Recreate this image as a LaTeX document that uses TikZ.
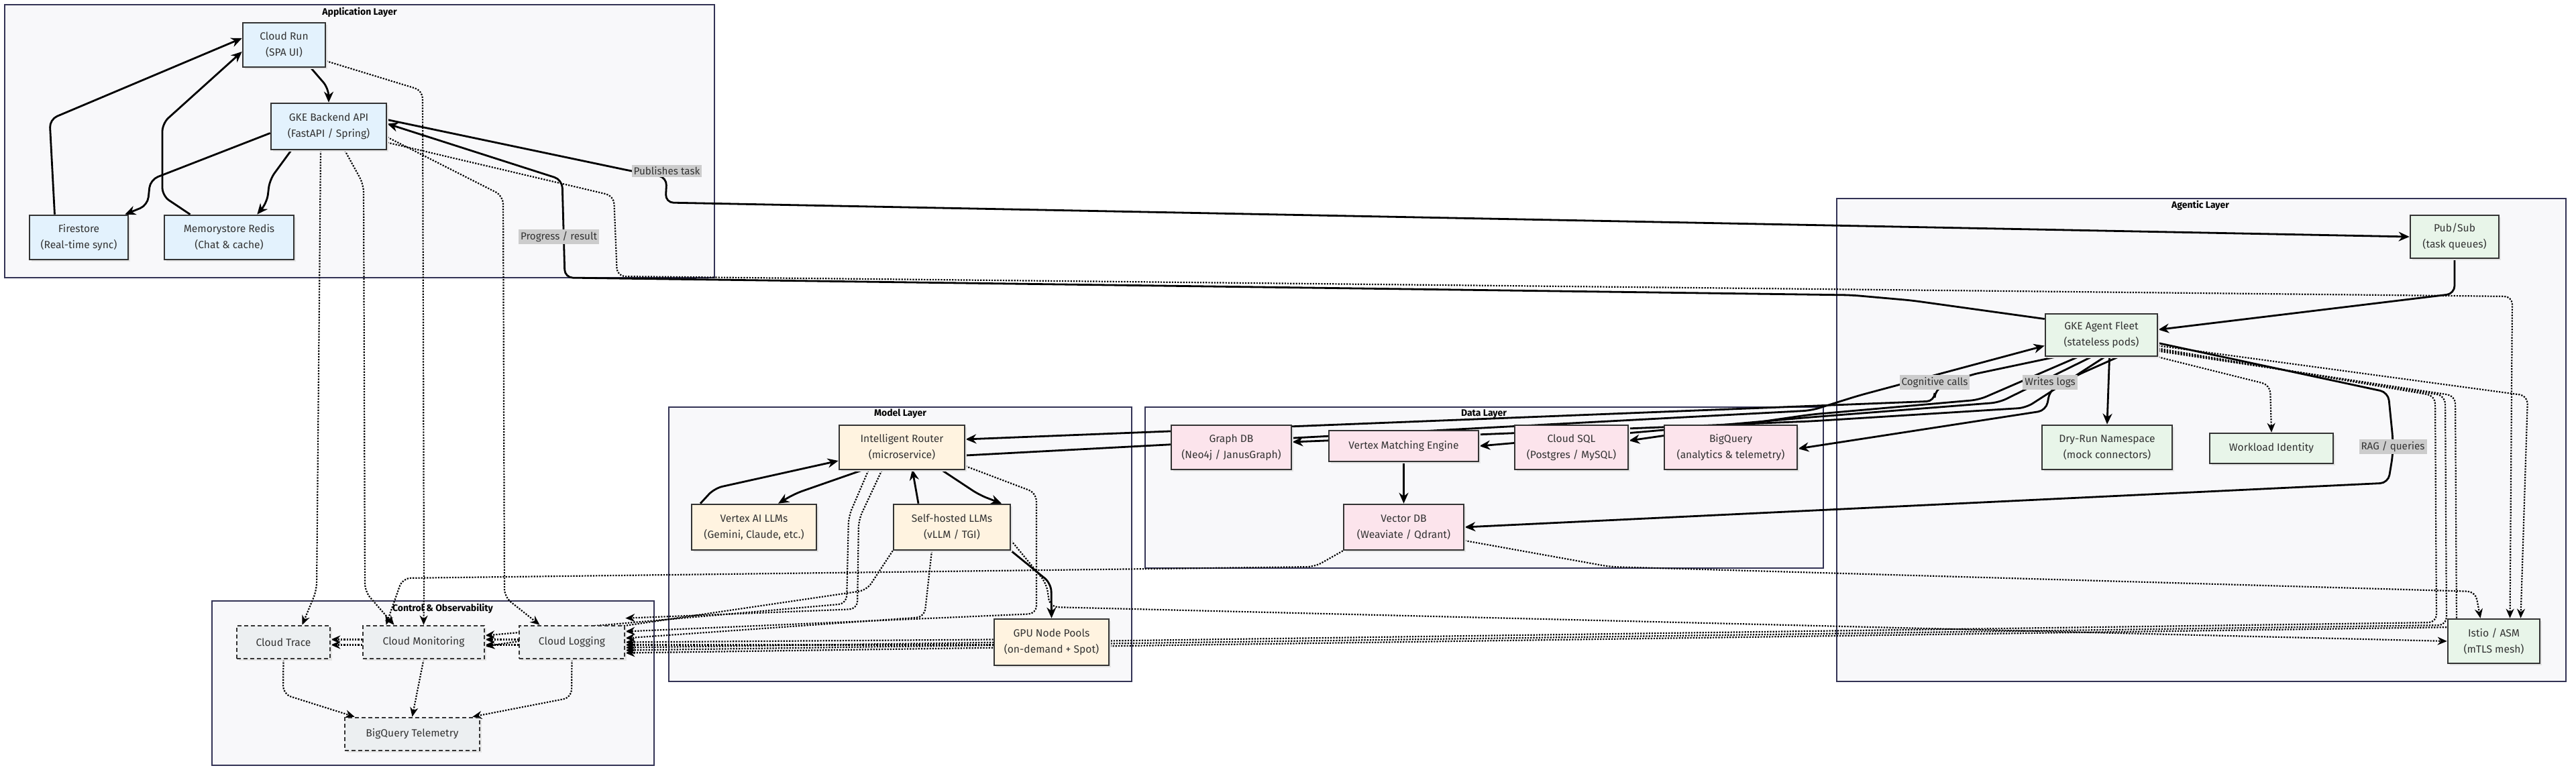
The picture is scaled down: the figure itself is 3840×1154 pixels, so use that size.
\documentclass[tikz,border=0pt]{standalone}
\usepackage{fontspec}
\setmainfont{Fira Sans}
\usetikzlibrary{arrows.meta,shadows}
\pgfdeclarelayer{bg}\pgfdeclarelayer{edges}\pgfsetlayers{bg,edges,main}
\definecolor{appc}{HTML}{E3F2FD}
\definecolor{modc}{HTML}{FFF3E0}
\definecolor{datc}{HTML}{FCE4EC}
\definecolor{agtc}{HTML}{E8F5E9}
\definecolor{obsc}{HTML}{ECEFF1}
\definecolor{clus}{HTML}{F8F8FA}
\definecolor{clusb}{HTML}{333355}
\begin{document}
\begin{tikzpicture}[x=0.5pt,y=-0.5pt,
  box/.style={draw=black!80,line width=1.3pt,align=center,font=\fontsize{7.8}{12}\selectfont,text=black!80,inner sep=1pt,
    drop shadow={shadow xshift=1.5pt,shadow yshift=-1.5pt,fill=black!10,opacity=1}},
  sz/.style 2 args={minimum width=#1*0.5pt,minimum height=#2*0.5pt},
  app/.style={box,fill=appc}, mod/.style={box,fill=modc}, dat/.style={box,fill=datc},
  agt/.style={box,fill=agtc}, obs/.style={box,fill=obsc,dashed,dash pattern=on 3pt off 2pt},
  cluster/.style={draw=clusb,fill=clus,line width=1.2pt},
  ctitle/.style={font=\bfseries\fontsize{7}{8}\selectfont,text=black},
  lbl/.style={fill=black!20,inner sep=1.5pt,font=\fontsize{7.6}{9}\selectfont,text=black!80},
  sol/.style={draw,line width=1.4pt,-{Stealth[length=8pt,width=7pt]},rounded corners=6pt},
  dot/.style={draw,densely dotted,line width=1.1pt,-{Stealth[length=7pt,width=6pt]},rounded corners=6pt}]
\useasboundingbox (0,0) rectangle (3840,1154);
\begin{pgfonlayer}{bg}
\fill[white] (0,0) rectangle (3840,1154);
\draw[cluster] (7,7) rectangle (1065,414);
\node[ctitle] at (536,18) {Application Layer};
\draw[cluster] (2738,296) rectangle (3825,1016);
\node[ctitle] at (3280,306) {Agentic Layer};
\draw[cluster] (997,607) rectangle (1687,1016);
\node[ctitle] at (1342,617) {Model Layer};
\draw[cluster] (1707,607) rectangle (2718,847);
\node[ctitle] at (2212,617) {Data Layer};
\draw[cluster] (316,896) rectangle (975,1141);
\node[ctitle] at (660,907) {Control \& Observability};
\end{pgfonlayer}
% nodes
\node[app,sz={123}{66}] (cr) at (423.5,67) {Cloud Run\\(SPA UI)};
\node[app,sz={172}{69}] (be) at (490,188.5) {GKE Backend API\\(FastAPI / Spring)};
\node[app,sz={147}{66}] (fs) at (117.5,354) {Firestore\\(Real-time sync)};
\node[app,sz={193}{66}] (rd) at (341.5,354) {Memorystore Redis\\(Chat \& cache)};
\node[agt,sz={132}{64}] (ps) at (3659,353) {Pub/Sub\\(task queues)};
\node[agt,sz={167}{63}] (af) at (3132.5,499.5) {GKE Agent Fleet\\(stateless pods)};
\node[agt,sz={194}{66}] (dr) at (3141,667) {Dry-Run Namespace\\(mock connectors)};
\node[agt,sz={184}{45}] (wi) at (3386,668.5) {Workload Identity};
\node[agt,sz={137}{66}] (is) at (3717.5,956) {Istio / ASM\\(mTLS mesh)};
\node[mod,sz={187}{66}] (ir) at (1344.5,667) {Intelligent Router\\(microservice)};
\node[mod,sz={186}{68}] (va) at (1124,786) {Vertex AI LLMs\\(Gemini, Claude, etc.)};
\node[mod,sz={174}{68}] (sh) at (1419,786) {Self-hosted LLMs\\(vLLM / TGI)};
\node[mod,sz={171}{69}] (gp) at (1567.5,957.5) {GPU Node Pools\\(on-demand + Spot)};
\node[dat,sz={179}{66}] (gd) at (1835.5,667) {Graph DB\\(Neo4j / JanusGraph)};
\node[dat,sz={223}{46}] (vm) at (2092.5,665) {Vertex Matching Engine};
\node[dat,sz={169}{66}] (cs) at (2342.5,667) {Cloud SQL\\(Postgres / MySQL)};
\node[dat,sz={198}{66}] (bq) at (2580,667) {BigQuery\\(analytics \& telemetry)};
\node[dat,sz={179}{68}] (vd) at (2092.5,786) {Vector DB\\(Weaviate / Qdrant)};
\node[obs,sz={139}{49}] (ct) at (422.5,957.5) {Cloud Trace};
\node[obs,sz={181}{49}] (cm) at (631.5,957.5) {Cloud Monitoring};
\node[obs,sz={157}{49}] (cl) at (852.5,957.5) {Cloud Logging};
\node[obs,sz={201}{49}] (bt) at (614.5,1094.5) {BigQuery Telemetry};
% labels
\node[lbl] (lpub) at (994,255) {Publishes task};
\node[lbl] (lprog) at (833,353) {Progress / result};
\node[lbl] (lcog) at (2884,570) {Cognitive calls};
\node[lbl] (lwl) at (3056,570) {Writes logs};
\node[lbl] (lrag) at (3567,666) {RAG / queries};
\begin{pgfonlayer}{edges}
% application
\draw[sol] ([xshift=-18pt]fs.north) -- (74,178) -- ([yshift=5pt]cr.west);
\draw[sol] ([xshift=-29pt]rd.north) -- (242,292) -- (242,184) -- ([yshift=-5pt]cr.west);
\draw[sol] ([xshift=20pt]cr.south) -- (490,132) -- (be.north);
\draw[sol] ([yshift=-5pt]be.west) -- (224,268) -- (220,306) -- ([xshift=-3pt]fs.north east);
\draw[sol] ([xshift=-28pt]be.south) -- (402,268) -- (398,302) -- ([xshift=-28pt]rd.north east);
\draw[sol] ([yshift=5pt]be.east) -- (lpub.west) -- (lpub.south) -- (992,302) -- (ps.west);
\draw[sol] ([yshift=12pt]af.west) -- (2850,448) -- (2760,440) -- (842,414) -- (838,268) -- ([yshift=2pt]be.east);
\draw[sol] (ps.south) -- (3659,438) -- ([yshift=4pt]af.east);
% agentic
\draw[sol] ([xshift=8pt]af.south west) -- (lcog.north east) -- (lcog.south) -- (2884,598) -- ([yshift=6pt]ir.east);
\draw[sol] ([yshift=-6pt]ir.east) -- (2700,612) -- (2770,590) -- ([yshift=-8pt]af.west);
\draw[sol] ([xshift=-40pt]af.south east) -- (3020,608) -- (2700,628) -- ([yshift=4pt]gd.east);
\draw[sol] ([xshift=-50pt]af.south east) -- (2980,600) -- (2700,622) -- (vm.east);
\draw[sol] ([xshift=-60pt]af.south east) -- (2950,596) -- (2700,618) -- ([yshift=5pt]cs.east);
\draw[sol] ([xshift=-30pt]af.south east) -- (lwl.north east) -- (lwl.south) -- (3050,612) -- ([yshift=-1pt]bq.east);
\draw[sol] ([yshift=-6pt]af.east) -- (3560,585) -- (lrag.north) -- (lrag.south) -- (3560,720) -- (vd.east);
\draw[sol] ([xshift=6pt]af.south) -- (dr.north);
\draw[dot] (af.south east) -- (3384,574) -- (wi.north);
\draw[sol] (vm.south) -- (vd.north);
% model
\draw[sol] ([xshift=-30pt]ir.south) -- (1185,736) -- ([xshift=18pt]va.north);
\draw[sol] ([xshift=-40pt]va.north) -- (1065,728) -- ([yshift=-10pt]ir.west);
\draw[sol] ([xshift=-25pt]sh.north) -- (1360,700);
\draw[sol] ([xshift=30pt]ir.south) -- (1460,738) -- ([xshift=37pt]sh.north);
\draw[sol] (sh.south east) -- (1567,870) -- (gp.north);
% dotted to observability
\draw[dot] ([yshift=-12pt]cr.east) -- (630,135) -- (632,880) -- (cm.north);
\draw[dot] ([xshift=-6pt]be.south) -- (472,880) -- ([xshift=14pt]ct.north);
\draw[dot] ([xshift=12pt]be.south) -- (542,275) -- (544,882) -- ([xshift=-22pt]cm.north);
\draw[dot] ([yshift=-8pt]be.east) -- (750,292) -- (752,890) -- ([xshift=-24pt]cl.north);
\draw[dot] ([yshift=-12pt]be.east) -- (915,292) -- (920,412) -- (3745,442) -- ([xshift=12pt]is.north);
\draw[dot] ([xshift=-25pt]ir.south) -- (1265,770) -- (1262,900) -- ([yshift=5pt]cm.east);
\draw[dot] ([xshift=-15pt]ir.south) -- (1280,775) -- (1278,908) -- ([yshift=5pt]cl.north east);
\draw[dot] ([yshift=-14pt]ir.east) -- (1545,735) -- (1545,915) -- ([yshift=8pt]cl.east);
\draw[dot] (sh.south west) -- (1292,880) -- ([yshift=-3pt]cm.east);
\draw[dot] ([xshift=-15pt]sh.south) -- (1378,920) -- ([yshift=3pt]cl.east);
\draw[dot] ([yshift=-10pt]sh.east) -- (1560,870) -- (1565,905) -- (is.west);
\draw[dot] ([yshift=2pt]gp.west) -- ([yshift=0pt]cl.east);
\draw[dot] ([yshift=-2pt]gp.west) -- ([yshift=-2pt]cl.east);
\draw[dot] ([yshift=-10pt]af.east) -- (3630,590) -- (3632,928) -- ([yshift=-4pt]cl.east);
\draw[dot] ([yshift=-11pt]af.east) -- (3645,590) -- (3647,932) -- ([yshift=-6pt]cl.east);
\draw[dot] ([yshift=-12pt]af.east) -- (3660,590) -- (3662,935) -- ([yshift=-8pt]cl.east);
\draw[dot] ([yshift=-8pt]af.east) -- (3768,590) -- ([xshift=20pt]is.north);
\draw[dot] (vd.south west) -- (1960,845) -- (600,862) -- ([xshift=-28pt]cm.north);
\draw[dot] ([yshift=-10pt]vd.east) -- (2400,845) -- (3690,882) -- ([xshift=-10pt]is.north);
\draw[dot] ([yshift=2pt]cl.west) -- ([yshift=2pt]cm.east);
\draw[dot] ([yshift=-2pt]cl.west) -- ([yshift=-2pt]cm.east);
\draw[dot] ([yshift=2pt]cm.west) -- ([yshift=2pt]ct.east);
\draw[dot] ([yshift=-2pt]cm.west) -- ([yshift=-2pt]ct.east);
\draw[dot] (ct.south) -- (422,1035) -- ([xshift=8pt]bt.north west);
\draw[dot] (cm.south) -- (bt.north);
\draw[dot] (cl.south) -- (852,1040) -- ([xshift=-6pt]bt.north east);
\end{pgfonlayer}
\end{tikzpicture}
\end{document}
